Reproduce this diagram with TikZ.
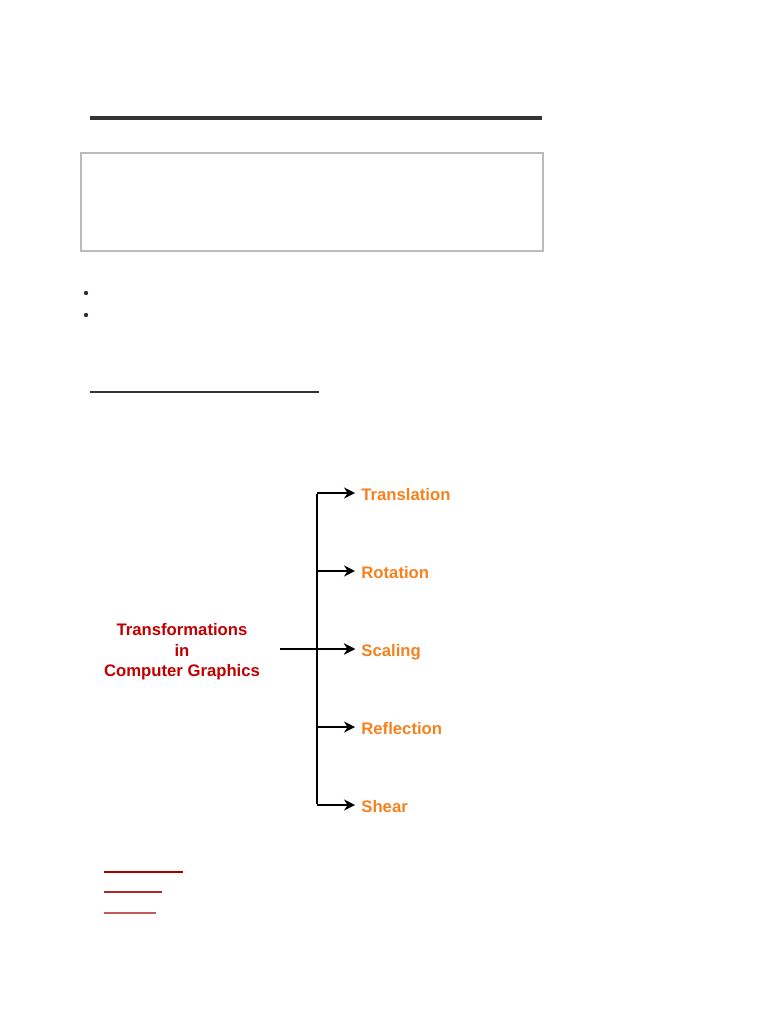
\documentclass[tikz,border=0pt]{standalone}
\usepackage{fontspec}
\setmainfont{Liberation Sans}
\definecolor{TitleRed}{HTML}{C00000}
\definecolor{BranchOrange}{HTML}{F5821F}
\definecolor{RuleGray}{HTML}{333333}
\definecolor{BoxGray}{HTML}{BBBBBB}
\definecolor{LinkRed}{HTML}{A50000}
\usetikzlibrary{arrows.meta,positioning}

\begin{document}
\begin{tikzpicture}[x=1pt, y=-1pt, thick, every node/.style={font=\fontsize{16.7}{20.5}\selectfont\bfseries}]
        \useasboundingbox[fill=white] (0,0) rectangle (768,1024);

        % Page rules and empty box
        \draw[RuleGray, line width=3.5pt] (90,118) -- (542,118);
        \draw[BoxGray, line width=1.2pt] (81,153) rectangle (543,251);
        \fill[RuleGray] (86,293) circle (2.2pt) (86,315) circle (2.2pt);
        \draw[RuleGray, line width=2.5pt] (90,392) -- (319,392);

        % Root
        \node[TitleRed, align=center] (root) at (182,652) {Transformations\\in\\Computer Graphics};
        \coordinate (from) at (280,649);

        % Branches
        \foreach \lbl/\y [count=\i] in {Translation/493, Rotation/571, Scaling/649, Reflection/727, Shear/805} {
            \coordinate (s\i) at (317,\y);
            \coordinate (t\i) at (355,\y);
            \node[BranchOrange, inner sep=0pt, anchor=base west] (b\i) at (361,\y+7) {\lbl};
            \draw[line width=2.3pt, -{Stealth[length=11pt,width=11pt]}] (s\i) -- (t\i);
        }
        \draw[line width=2.3pt] ([yshift=-1.1pt]s1) -- ([yshift=1.1pt]s5);
        \draw[line width=1.2pt, -{Stealth[length=11pt,width=11pt]}] (from) -- (t3);

        % Links
        \draw[LinkRed, line width=2.8pt] (104,872) -- (183,872);
        \draw[LinkRed!85, line width=2.4pt] (104,892) -- (162,892);
        \draw[LinkRed!65, line width=2pt] (104,913) -- (156,913);
    \end{tikzpicture}
\end{document}
